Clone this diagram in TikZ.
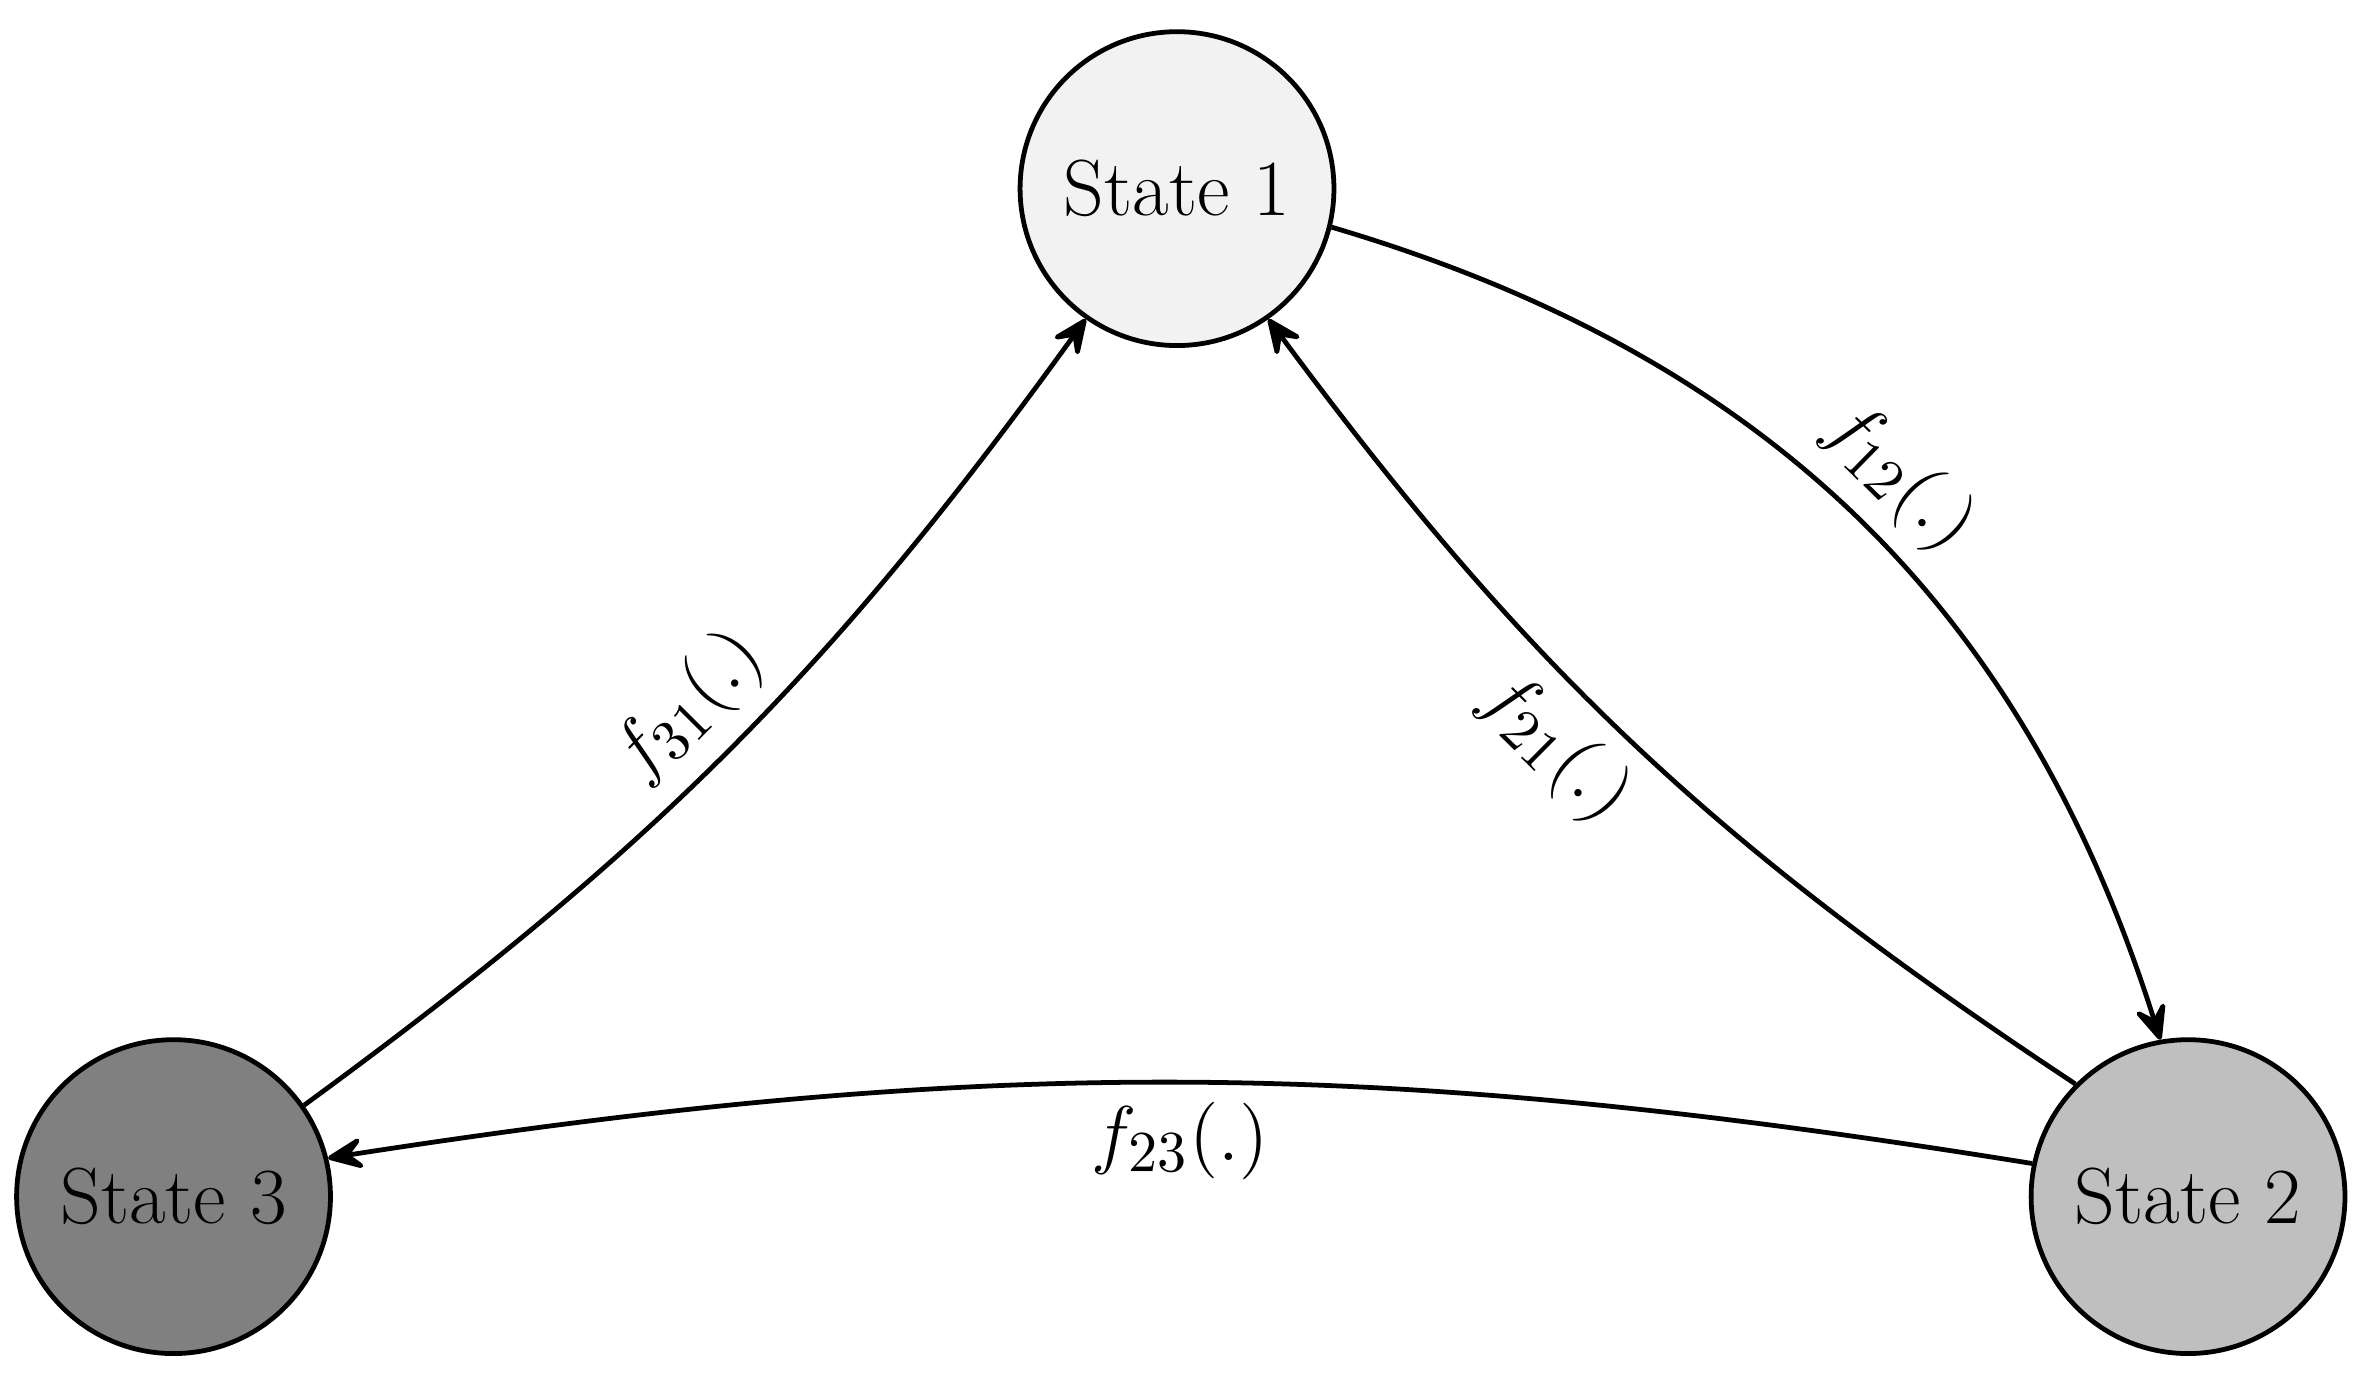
\documentclass[tikz,border=0pt]{standalone}
\usetikzlibrary{arrows.meta}
\begin{document}
\begin{tikzpicture}[
  st/.style={circle,draw,line width=0.9pt,minimum size=2.08cm,inner sep=0pt,font=\fontsize{15}{17}\selectfont},
  edge/.style={line width=0.9pt,-{Stealth[length=3mm,width=2.6mm,inset=1.3mm,round]}},
  lbl/.style={font=\fontsize{15}{17}\selectfont,sloped}]
\useasboundingbox (0,0) rectangle (15.6,9.2);
\node[st,fill=gray!10] (s1) at (7.8,7.95) {State 1};
\node[st,fill=gray!50] (s2) at (14.5,1.27) {State 2};
\node[st,fill=gray] (s3) at (1.15,1.27) {State 3};
\draw[edge] (s1.-14) to[bend left=28] node[lbl,above,pos=0.5] {$f_{12}(.)$} (s2.100);
\draw[edge] (s2.135) to[bend left=10] node[lbl,below,pos=0.55] {$f_{21}(.)$} (s1.-55);
\draw[edge] (s3.35) to[bend right=9] node[lbl,above,pos=0.5] {$f_{31}(.)$} (s1.-125);
\draw[edge] (s2.168) to[bend right=9] node[lbl,below,pos=0.5] {$f_{23}(.)$} (s3.14);
\end{tikzpicture}
\end{document}
